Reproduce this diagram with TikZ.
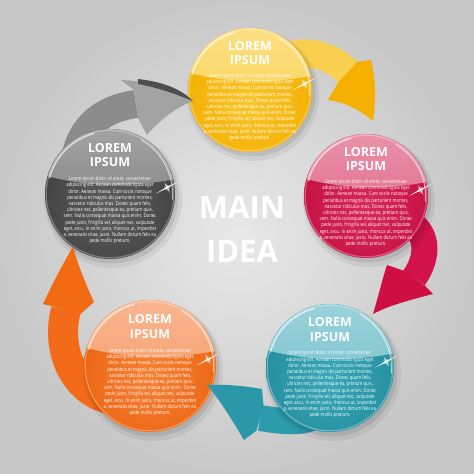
\documentclass[tikz,border=0pt]{standalone}
\usepackage{fontspec}
\setmainfont{Open Sans}
\newfontfamily\bodyfont[FakeStretch=0.8]{Open Sans}
\definecolor{bgIn}{HTML}{E8E8E8}
\definecolor{bgOut}{HTML}{C8C8C8}
% yellow
\definecolor{ylD}{HTML}{F2AE00}
\definecolor{ylB}{HTML}{F9C52A}
\definecolor{ylL}{HTML}{FAD868}
\definecolor{ylBand}{HTML}{F9CF4F}
\definecolor{ylHead}{HTML}{F6B000}
% red
\definecolor{rdD}{HTML}{C20F42}
\definecolor{rdB}{HTML}{D9285A}
\definecolor{rdL}{HTML}{E47A95}
\definecolor{rdBand}{HTML}{D2124A}
\definecolor{rdHead}{HTML}{CF0F42}
% teal
\definecolor{tlD}{HTML}{228C9C}
\definecolor{tlB}{HTML}{3AA8B7}
\definecolor{tlL}{HTML}{85C8D2}
\definecolor{tlBand}{HTML}{2C9CAC}
\definecolor{tlHead}{HTML}{2A98A9}
% orange
\definecolor{orD}{HTML}{EC630F}
\definecolor{orB}{HTML}{F58238}
\definecolor{orL}{HTML}{F7A678}
\definecolor{orBand}{HTML}{F36B18}
\definecolor{orHead}{HTML}{F26A12}
% gray
\definecolor{gyD}{HTML}{404040}
\definecolor{gyB}{HTML}{5E5E5E}
\definecolor{gyL}{HTML}{8E8E8E}
\definecolor{gyBand}{HTML}{8C8C8C}
\definecolor{gyHead}{HTML}{A3A3A3}
\definecolor{gyStreak}{HTML}{4D4D4D}

\newcommand\lorembody{Lorem ipsum dolor sit amet, consectetuer\\adipiscing elit. Aenean commodo ligula eget\\dolor. Aenean massa. Cum sociis natoque\\penatibus et magnis dis parturient montes,\\nascetur ridiculus mus. Donec quam felis,\\ultricies nec, pellentesque eu, pretium quis,\\sem. Nulla consequat massa quis enim. Donec\\pede justo, fringilla vel, aliquet nec, vulputate\\eget, arcu. In enim justo, rhoncus ut, imperdiet\\a, venenatis vitae, justo. Nullam dictum felis eu\\pede mollis pretium.}

% #1 x, #2 y, #3 r, #4 dark, #5 base, #6 light, #7 name
\newcommand\gball[7]{%
\begin{scope}[shift={(#1,#2)}]
 \fill[black,opacity=0.06] (3,5) circle ({#3+4});
 \fill[black,opacity=0.09] (2,3) circle ({#3+1.5});
 \begin{scope}
  \clip (0,0) circle (#3);
  \shade[inner color=#5, outer color=#4] (0,10) circle ({#3+12});
  \shade[top color=#6!80!white, bottom color=#6]
    (-1.05*#3,-0.30*#3) .. controls (-0.4*#3,-0.10*#3) and (0.4*#3,-0.10*#3) .. (1.05*#3,-0.24*#3)
    -- (1.05*#3,-1.1*#3) -- (-1.05*#3,-1.1*#3) -- cycle;
 \end{scope}
 \draw[white,opacity=0.30,line width=1.2] (0,0) circle ({#3-1.2});
 \draw[white,opacity=0.75,line width=1.1,line cap=round] (195:{#3-2.5}) arc[start angle=195,end angle=255,radius={#3-2.5}];
 \draw[white,opacity=0.6,line width=1.0,line cap=round] (-60:{#3-2.5}) arc[start angle=-60,end angle=5,radius={#3-2.5}];
 \begin{scope}[shift={(0.88*#3,-0.1*#3)}]
  \fill[white,opacity=0.35] (0,0) circle (3);
  \fill[white,rotate=28] (-13,0) -- (0,-0.7) -- (13,0) -- (0,0.7) -- cycle;
  \fill[white,rotate=-62] (-6,0) -- (0,-0.6) -- (6,0) -- (0,0.6) -- cycle;
 \end{scope}
 \node[titletxt] (#7-title) at (0,-0.6*#3) {LOREM\\IPSUM};
 \node[bodytxt, anchor=north] (#7-body) at (0,-0.27*#3) {\lorembody};
\end{scope}}

\tikzset{
 titletxt/.style={text=white, font=\fontsize{12.5}{14.5}\selectfont\bfseries, align=center, inner sep=0},
 bodytxt/.style={text=white, font=\bodyfont\fontsize{5.3}{6.2}\selectfont, align=center, inner sep=0},
 maintxt/.style={text=white, font=\fontsize{31}{44}\selectfont\bfseries, align=center, inner sep=0},
 band/.style={line width=#1, line cap=butt},
}

\begin{document}
\begin{tikzpicture}[x=1pt,y=-1pt]
\useasboundingbox (0,0) rectangle (474,474);
\shade[inner color=bgIn, outer color=bgOut] (0,0) rectangle (474,474);

% ---- arrow bands (behind the balls)
\draw[band=28, draw=gyBand] (75,160) .. controls (80,125) and (105,108) .. (136,104);
\draw[band=28, draw=ylBand] (285,58) .. controls (305,48) and (330,55) .. (348,72);
\draw[band=26, draw=rdBand] (405,220) .. controls (428,230) and (430,255) .. (414,278);
\draw[band=26, draw=tlBand] (320,410) .. controls (312,425) and (285,422) .. (260,418);
\draw[band=30, draw=orBand] (115,400) .. controls (75,395) and (55,350) .. (66,310);

% ---- balls
\gball{250}{90}{62}{ylD}{ylB}{ylL}{yellow}
\gball{366}{196}{62}{rdD}{rdB}{rdL}{red}
\gball{330}{368}{64}{tlD}{tlB}{tlL}{teal}
\gball{150}{366}{66}{orD}{orB}{orL}{orange}
\gball{110}{194}{65}{gyD}{gyB}{gyL}{gray}

% ---- arrow heads (on top)
\fill[gyHead] (121,80) .. controls (160,82) and (180,90) .. (193,101) .. controls (175,108) and (160,120) .. (147,135) -- (137.8,117.9) -- (134.2,90.1) -- cycle;
\fill[gyStreak] (138,79) .. controls (165,82) and (182,90) .. (193,101) .. controls (178,95) and (160,88) .. (138,84) -- cycle;
\fill[ylHead] (371,60) .. controls (376,80) and (376,100) .. (373,121) .. controls (360,110) and (345,102) .. (328,100) -- (338.4,82.2) -- (357.6,61.8) -- cycle;
\fill[rdHead] (433,294) .. controls (410,300) and (390,305) .. (373,314) .. controls (378,298) and (382,280) .. (387,265) -- (403.3,270.6) -- (424.7,285.4) -- cycle;
\fill[tlHead] (262,389) .. controls (245,386) and (225,384) .. (207,385) .. controls (220,400) and (232,420) .. (244,440) -- (256.5,430.5) -- (263.5,405.5) -- cycle;
\fill[orHead] (43,304) .. controls (52,285) and (62,265) .. (73,247) .. controls (78,265) and (86,285) .. (94,302) -- (80.5,314) -- (51.5,306) -- cycle;

% ---- centre text
\node[maintxt] (main) at (242,229) {MAIN\\IDEA};
\end{tikzpicture}
\end{document}
